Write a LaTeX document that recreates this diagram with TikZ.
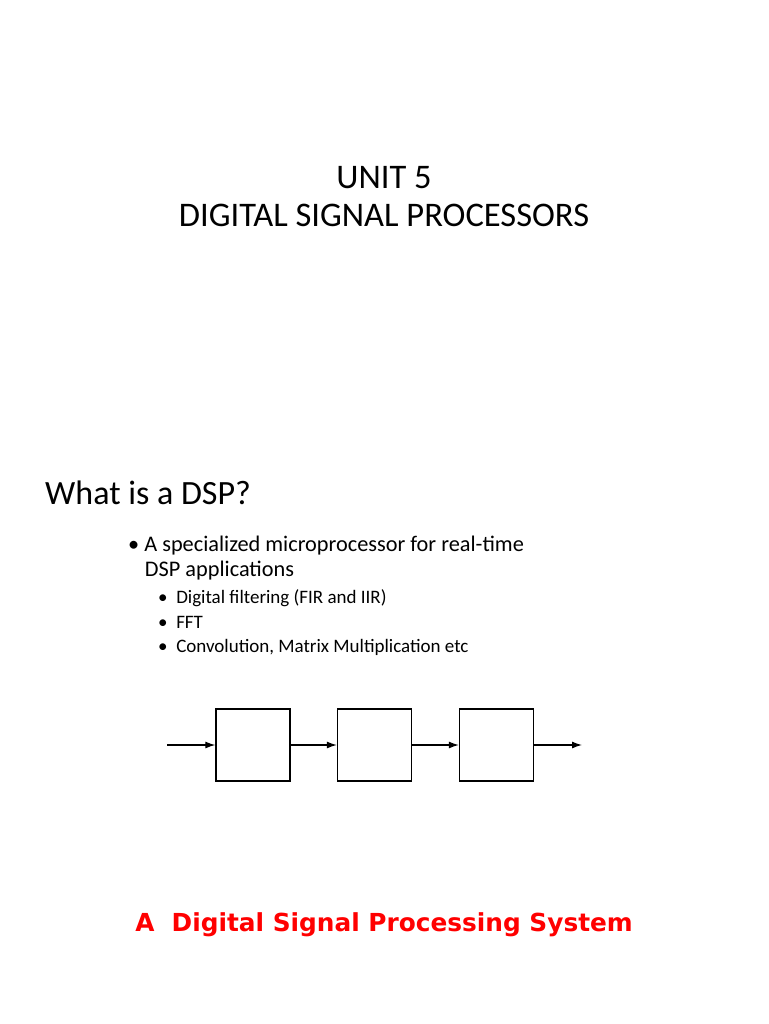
\documentclass[tikz,border=0pt]{standalone}
\usepackage{fontspec}
\setmainfont{Carlito}
\newfontfamily\redfont{DejaVu Sans}
\usetikzlibrary{arrows.meta}
\begin{document}
\begin{tikzpicture}[x=1pt,y=-1pt,
  blk/.style={draw,line width=1.3pt,minimum width=74pt,minimum height=72pt,inner sep=0pt},
  conn/.style={line width=1.2pt,-{Latex[length=10pt,width=7pt]}},
  txt/.style={inner sep=0pt,anchor=west}]
\useasboundingbox (0,0) rectangle (768,1024);
\fill[white] (0,0) rectangle (768,1024);
\node[inner sep=0pt,align=center,font=\fontsize{34.5}{38}\selectfont] (title) at (384,197) {UNIT 5\\DIGITAL SIGNAL PROCESSORS};
\node[txt,font=\fontsize{34}{40}\selectfont] (what) at (45,493) {What is a DSP?};
\node[txt,font=\fontsize{22.3}{25}\selectfont,align=left,anchor=north west] (b1) at (128,536) {• A specialized microprocessor for real-time\\\hspace*{0.75em}DSP applications};
\node[txt,font=\fontsize{19}{20}\selectfont] (s1) at (158,598) {• \ Digital filtering (FIR and IIR)};
\node[txt,font=\fontsize{19}{20}\selectfont] (s2) at (158,622) {• \ FFT};
\node[txt,font=\fontsize{19}{20}\selectfont] (s3) at (158,647) {• \ Convolution, Matrix Multiplication etc};
\node[blk] (k1) at (253,745) {};
\node[blk] (k2) at (374.5,745) {};
\node[blk] (k3) at (496.5,745) {};
\coordinate (in) at (167,745);
\coordinate (out) at (582,745);
\draw[conn] (in) -- (k1.west);
\draw[conn] (k1.east) -- (k2.west);
\draw[conn] (k2.east) -- (k3.west);
\draw[conn] (k3.east) -- (out);
\node[inner sep=0pt,text=red,font=\redfont\bfseries\fontsize{24.8}{28}\selectfont] (cap) at (384,925) {A\ \ Digital Signal Processing System};
\end{tikzpicture}
\end{document}
